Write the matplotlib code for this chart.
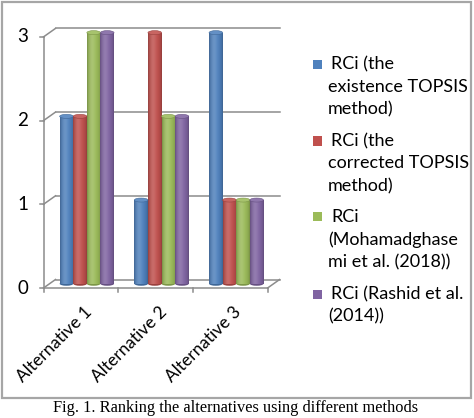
import numpy as np
import matplotlib
matplotlib.use("Agg")
import matplotlib.pyplot as plt
import matplotlib.colors as mcolors
from matplotlib.patches import Ellipse, Rectangle
from matplotlib.lines import Line2D

# ---------------- data ----------------
categories = ["Alternative 1", "Alternative 2", "Alternative 3"]
series_labels = [
    ["RCi (the", "existence TOPSIS", "method)"],
    ["RCi (the", "corrected TOPSIS", "method)"],
    ["RCi", "(Mohamadghase", "mi et al. (2018))"],
    ["RCi (Rashid et al.", "(2014))"],
]
rci_existence = [2, 1, 3]
rci_corrected = [2, 3, 1]
rci_mohamadghasemi = [3, 2, 1]
rci_rashid = [3, 2, 1]
y_ticks = [0, 1, 2, 3]
caption = "Fig. 1. Ranking the alternatives using different methods"

series_values = [rci_existence, rci_corrected, rci_mohamadghasemi, rci_rashid]
colors = ["#4F81BD", "#C0504D", "#9BBB59", "#8064A2"]

# ---------------- geometry (pixels) ----------------
W, H = 474, 418
X0 = 43.5      # px of front-left corner
CAT = 74.7     # px per category
Y0 = 288.0     # px (from top) of value 0 on the front axis
UNIT = 83.7    # px per unit
DXP, DYP = 12.0, 8.5

fig = plt.figure(figsize=(W / 100, H / 100), dpi=100)
ax = fig.add_axes([0, 0, 1, 1])
ax.set_axis_off()
ax.set_xlim(-X0 / CAT, (W - X0) / CAT)
ax.set_ylim(-(H - Y0) / UNIT, Y0 / UNIT)
ax.set_autoscale_on(False)

dx = DXP / CAT
dy = DYP / UNIT
px = 1.0 / CAT
py = 1.0 / UNIT
ncat = len(categories)
ymax = max(y_ticks)
grid_c = "#8C8C8C"

# front value axis
ax.add_line(Line2D([0, 0], [0, ymax], color=grid_c, lw=1.1))
for t in y_ticks:
    ax.add_line(Line2D([-4 * px, 0], [t, t], color=grid_c, lw=1.1))
    ax.add_line(Line2D([0, dx], [t, t + dy], color=grid_c, lw=1.1))
    ax.add_line(Line2D([dx, ncat + dx], [t + dy, t + dy], color=grid_c, lw=1.1))
    ax.text(-21 * px, t, str(t), ha="center", va="center",
            fontsize=13.5, family="Lato", color="#000000")

# floor front edge and category ticks
ax.add_line(Line2D([0, ncat], [0, 0], color=grid_c, lw=1.1))
ax.add_line(Line2D([ncat, ncat + dx], [0, dy], color=grid_c, lw=1.1))
for i in range(ncat + 1):
    ax.add_line(Line2D([i, i], [0, -4 * py], color=grid_c, lw=1.1))

# category labels
for i, c in enumerate(categories):
    ax.text(i + 0.5 + 3 * px, -16 * py, c, rotation=45, ha="right", va="top",
            rotation_mode="anchor", fontsize=12.5, family="Lato")

# cylinders
nser = len(series_values)
bw = 13.6 * px
cap = 4.0 * py


def shade(color, n=40):
    base = np.array(mcolors.to_rgb(color))
    t = np.linspace(0, 1, n)
    hl = np.exp(-((t - 0.35) / 0.25) ** 2) * 0.16
    dark = 0.74 + 0.26 * np.sin(np.pi * t) ** 0.5
    rgb = base[None, :] * dark[:, None]
    rgb = rgb + (1 - rgb) * hl[:, None]
    return np.clip(rgb, 0, 1)[None, :, :]


for j, vals in enumerate(series_values):
    xs = [i + 0.5 + dx / 2 - nser * bw / 2 + j * bw for i in range(ncat)]
    bars = ax.bar(xs, vals, width=bw, bottom=dy / 2, align="edge",
                  color=colors[j], edgecolor="none", zorder=3)
    base = np.array(mcolors.to_rgb(colors[j]))
    for rect in bars:
        x_l = rect.get_x()
        b = rect.get_y()
        h = rect.get_height()
        ax.add_patch(Ellipse((x_l + bw / 2, b), bw, cap,
                             facecolor=base * 0.8, edgecolor="none", zorder=2.9))
        im = ax.imshow(shade(colors[j]), extent=(x_l, x_l + bw, b, b + h),
                       aspect="auto", interpolation="bilinear", zorder=3.1)
        im.set_clip_path(rect)
        top_c = np.clip(base + (1 - base) * 0.12, 0, 1)
        ax.add_patch(Ellipse((x_l + bw / 2, b + h), bw, cap,
                             facecolor=top_c, edgecolor=base * 0.8, lw=0.4,
                             zorder=3.2))

ax.set_xlim(-X0 / CAT, (W - X0) / CAT)
ax.set_ylim(-(H - Y0) / UNIT, Y0 / UNIT)

# legend (manual)
group_y = [64, 141, 217, 294]
line_sp = 22.5
for j, lines in enumerate(series_labels):
    gy = group_y[j]
    fig.patches.append(Rectangle((313 / W, 1 - (gy + 4.5) / H), 9 / W, 9 / H,
                                 transform=fig.transFigure,
                                 facecolor=colors[j], edgecolor="none"))
    for k, ln in enumerate(lines):
        xoff = 331 if k == 0 else 328
        fig.text(xoff / W, 1 - (gy + k * line_sp) / H, ln, ha="left",
                 va="center", fontsize=13, family="Lato")

# outer border
fig.patches.append(Rectangle((1.5 / W, 1 - 397.5 / H), 469 / W, 396 / H,
                             transform=fig.transFigure, facecolor="none",
                             edgecolor="#A6A6A6", lw=1.6))

# caption
fig.text(236 / W, 1 - 408 / H, caption, ha="center", va="center",
         fontsize=11.8, family="Liberation Serif")

fig.savefig("out.png", dpi=100)
